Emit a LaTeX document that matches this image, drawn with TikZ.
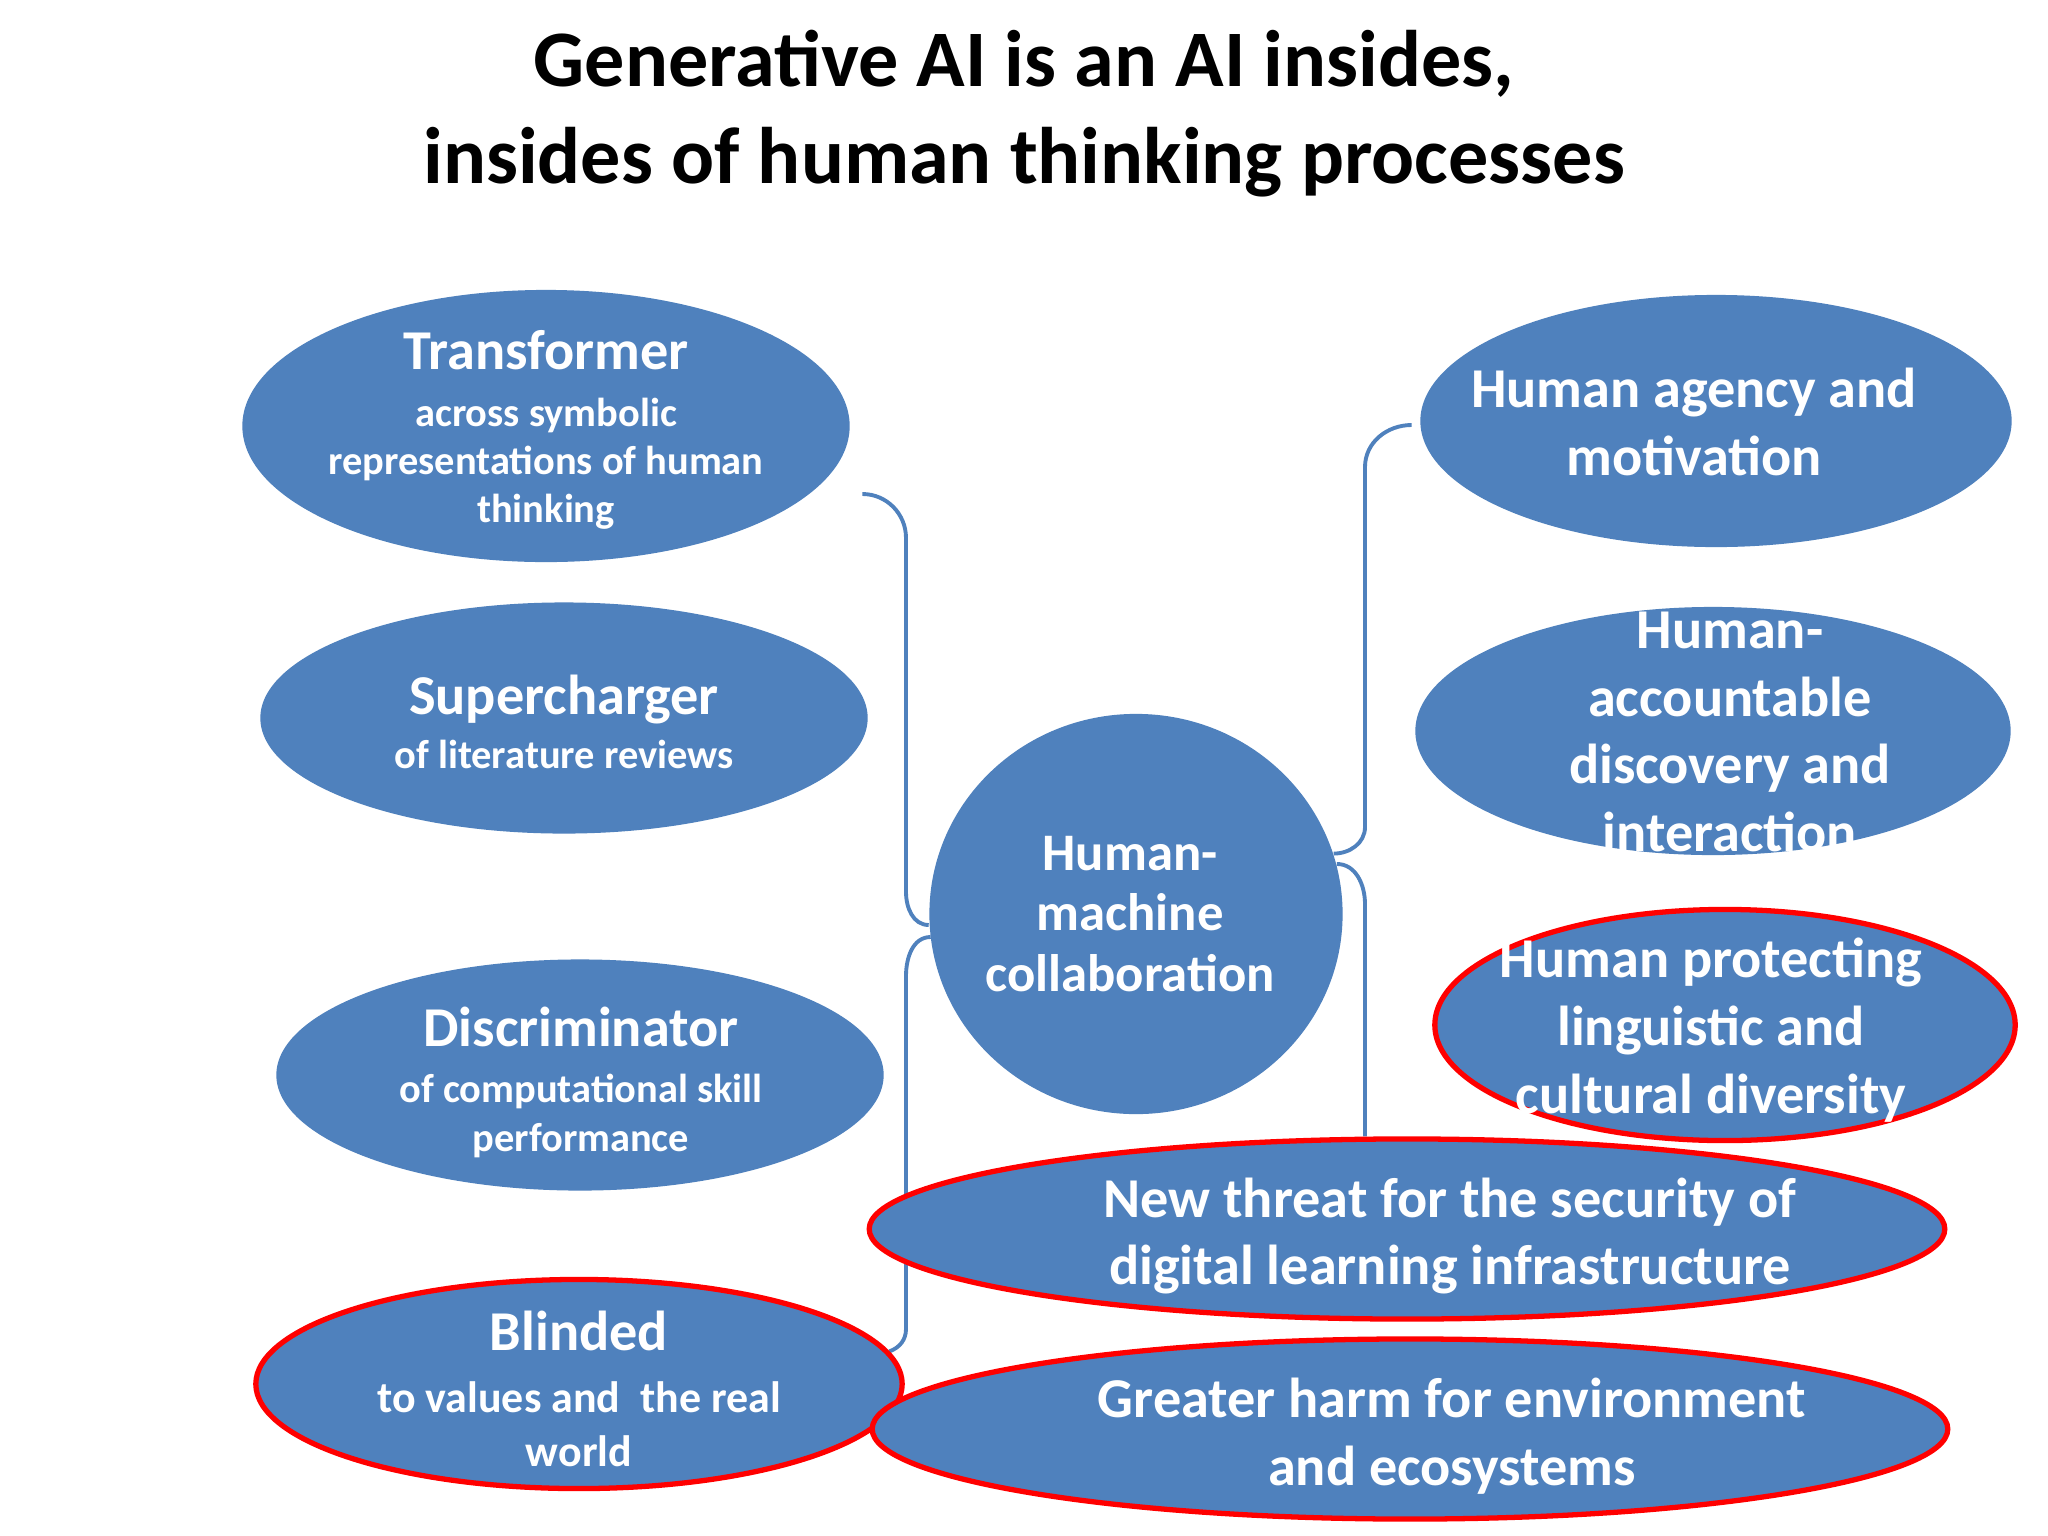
\documentclass[tikz,border=0pt]{standalone}
\usepackage{fontspec}
\setmainfont{Carlito}
\usepackage{xcolor}
\usepackage{tikz}
\usetikzlibrary{shapes.geometric, calc, backgrounds}
\definecolor{officeblue}{HTML}{4F81BD}
\definecolor{alertred}{HTML}{FF0000}
\newcommand{\headsize}{\fontsize{16}{19.3}\selectfont}
\newcommand{\subsize}{\fontsize{11.5}{13.7}\selectfont}

\begin{document}
\begin{tikzpicture}[x=0.01cm, y=-0.01cm,
  bubble/.style={ellipse, fill=officeblue, inner sep=0pt},
  redbubble/.style={bubble, draw=alertred, line width=1.5pt},
  txt/.style={text=white, align=center, inner sep=0pt, font=\bfseries\headsize},
  link/.style={draw=officeblue, line width=1.1pt}]
\useasboundingbox (0,0) rectangle (2048,1536);
\node[font=\bfseries\fontsize{22.8}{27.6}\selectfont, align=center] (title) at (1024,114) {Generative AI is an AI insides,\\ insides of human thinking processes};

% left column
\node[bubble, minimum width=6.07cm, minimum height=2.72cm] (tr) at (546,426) {};
\node[bubble, minimum width=6.07cm, minimum height=2.31cm] (sc) at (564,718) {};
\node[bubble, minimum width=6.07cm, minimum height=2.31cm] (dc) at (580,1075) {};
\node[redbubble, minimum width=6.46cm, minimum height=2.09cm] (bl) at (579,1384) {};

% centre
\node[bubble, minimum width=4.13cm, minimum height=4.00cm] (hm) at (1136,914) {};

% right column
\node[bubble, minimum width=5.91cm, minimum height=2.52cm] (ag) at (1716,421) {};
\node[bubble, minimum width=5.95cm, minimum height=2.48cm] (ac) at (1713,731) {};
\node[redbubble, minimum width=5.80cm, minimum height=2.31cm] (pr) at (1725,1025) {};
\node[redbubble, minimum width=10.75cm, minimum height=1.80cm] (th) at (1407,1229) {};
\node[redbubble, minimum width=10.75cm, minimum height=1.80cm] (gh) at (1410,1429) {};

% texts
\node[txt, font=\bfseries\subsize] (tr-t) at (546,430) {{\headsize Transformer}\\[2.5pt] across symbolic\\ representations of human\\ thinking};
\node[txt, font=\bfseries\subsize] (sc-t) at (564,722) {{\headsize Supercharger}\\[1.5pt] of literature reviews};
\node[txt, font=\bfseries\subsize] (dc-t) at (581,1082) {{\headsize Discriminator}\\[2.5pt] of computational skill\\ performance};
\node[txt, font=\bfseries\fontsize{12.5}{15.6}\selectfont] (bl-t) at (579,1389) {{\headsize Blinded}\\[2pt] to values and\ \ the real\\ world};
\node[txt, font=\bfseries\fontsize{15}{17.3}\selectfont] (hm-t) at (1130,914) {Human-\\ machine\\ collaboration};
\node[txt] (ag-t) at (1694,422) {Human agency and\\ motivation};
\node[txt] (ac-t) at (1730,732) {Human-\\ accountable\\ discovery and\\ interaction};
\node[txt] (pr-t) at (1711,1030) {Human protecting\\ linguistic and\\ cultural diversity};
\node[txt] (th-t) at (1450,1236) {New threat for the security of\\ digital learning infrastructure};
\node[txt] (gh-t) at (1452,1436) {Greater harm for environment\\ and ecosystems};

% connectors
\begin{scope}[on background layer]
\fill[white] (0,0) rectangle (2048,1536);
\coordinate (lx) at (906,0);
\coordinate (rx) at (1365,0);
\draw[link] ([shift={(12,68)}]tr.east) to[out=0,in=90] (906,538) -- (906,892) to[out=-90,in=180] ([shift={(0,11)}]hm.west);
\draw[link] ([shift={(2,23)}]hm.west) to[out=180,in=90] (906,976) -- (906,1329) to[out=-90,in=20] (bl.6);
\draw[link] (hm.17) to[out=0,in=-90] (1365,827) -- (1365,467) to[out=90,in=180] ([shift={(-8,4)}]ag.west);
\draw[link] (hm.14) to[out=0,in=90] (1365,904) -- (th.north -| rx);
\end{scope}
\end{tikzpicture}
\end{document}
